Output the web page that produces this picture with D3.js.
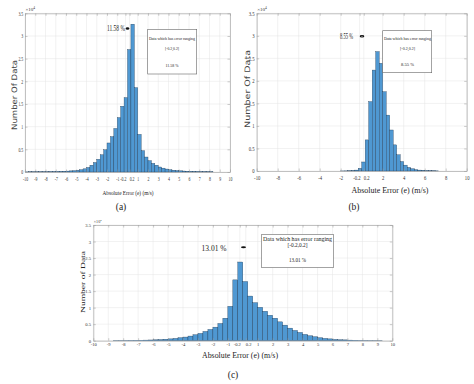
<!DOCTYPE html>
<html>
<head>
<meta charset="utf-8">
<script src="https://cdn.jsdelivr.net/npm/d3@7"></script>
<style>
  body { margin: 0; background: #fff; }
  svg { display: block; }
  text { font-family: "Liberation Serif", "Times New Roman", serif; }
</style>
</head>
<body>
<svg id="fig" width="474" height="384"></svg>
<script>
const binWidth = 1 / 3;

// (a) first bin edge and counts
const startA = -10;
const countsA = [30, 40, 40, 50, 50, 60, 70, 80, 90, 110, 130, 160, 200, 250, 300, 400, 500, 700,
  1000, 1500, 2100, 2800, 3800, 4900, 6400, 7800, 9600, 12000, 14500, 16400, 27000, 32600, 18600,
  8300, 4700, 3300, 2500, 1900, 1500, 1100, 850, 650, 500, 400, 320, 260, 210, 170, 140, 120, 100,
  90, 80, 70, 60];

// (b)
const startB = -2;
const countsB = [20, 30, 50, 100, 200, 600, 2000, 6900, 15400, 22400, 26500, 23900, 17600, 12400,
  9100, 5800, 3600, 2100, 1300, 800, 500, 300, 200, 150, 100, 70, 50, 30];

// (c)
const startC = -26 / 3;
const countsC = [60, 70, 80, 100, 120, 140, 180, 220, 280, 350, 450, 550, 700, 900, 1100, 1400, 1800,
  2200, 2800, 3400, 4100, 5200, 6800, 10400, 18400, 23800, 17900, 13500, 11500, 10100, 8900, 7700,
  6800, 5700, 4700, 3800, 3100, 2500, 1900, 1500, 1200, 900, 700, 550, 400, 300, 250, 180, 140, 100,
  80, 60, 50, 40];

const ticksA = [-10, -9, -8, -7, -6, -5, -4, -3, -2, -1, -0.2, 0.2, 1, 2, 3, 4, 5, 6, 7, 8, 9, 10];
const ticksB = [-10, -8, -6, -4, -2, -0.2, 0.2, 2, 4, 6, 8, 10];
const ticksC = ticksA;
const yTicks = [0, 5000, 10000, 15000, 20000, 25000, 30000, 35000];

const shares = ["11.58 %", "8.55 %", "13.01 %"];
const boxShares = ["11.58 %", "8.55 %", "13.01 %"];

const svg = d3.select("#fig");

function label(txt, x, y, size, opts = {}) {
  const t = svg.append("text")
    .attr("x", x).attr("y", y)
    .attr("font-size", size)
    .attr("fill", opts.fill || "#222")
    .attr("text-anchor", opts.anchor || "middle")
    .text(txt);
  if (opts.len) t.attr("textLength", opts.len).attr("lengthAdjust", "spacingAndGlyphs");
  if (opts.family) t.style("font-family", opts.family);
  if (opts.rotate) t.attr("transform", `rotate(-90,${x},${y})`);
  return t;
}

function drawPanel(p) {
  const x = d3.scaleLinear().domain([-10, 10]).range([p.left, p.right]);
  const y = d3.scaleLinear().domain([0, 35000]).range([p.bottom, p.top]);
  const g = svg.append("g");

  // grid
  g.append("g").selectAll("line").data(p.ticks).join("line")
    .attr("x1", d => x(d)).attr("x2", d => x(d))
    .attr("y1", p.top).attr("y2", p.bottom)
    .attr("stroke", "#e4e4e4").attr("stroke-width", 0.5);
  g.append("g").selectAll("line").data(yTicks).join("line")
    .attr("x1", p.left).attr("x2", p.right)
    .attr("y1", d => y(d)).attr("y2", d => y(d))
    .attr("stroke", "#e4e4e4").attr("stroke-width", 0.5);

  // bars
  const bins = p.counts.map((c, i) => ({ a: p.start + i * binWidth, b: p.start + (i + 1) * binWidth, c }));
  g.append("g").selectAll("rect").data(bins).join("rect")
    .attr("x", d => x(d.a))
    .attr("width", d => x(d.b) - x(d.a))
    .attr("y", d => y(d.c))
    .attr("height", d => p.bottom - y(d.c))
    .attr("fill", "#4f98d2")
    .attr("stroke", "#1d3852")
    .attr("stroke-width", 0.35);

  // axes: box with inward ticks on all four sides
  const styleAxis = sel => {
    sel.attr("font-family", null).attr("font-size", null);
    sel.select(".domain").attr("stroke", "#9a9a9a").attr("stroke-width", 0.6);
    sel.selectAll(".tick line").attr("stroke", "#9a9a9a").attr("stroke-width", 0.5);
    sel.selectAll(".tick text").attr("font-size", p.tickFont).attr("fill", "#333");
  };
  const bottom = g.append("g").attr("transform", `translate(0,${p.bottom})`)
    .call(d3.axisBottom(x).tickValues(p.ticks).tickSize(-2.5).tickSizeOuter(0)
      .tickPadding(p.xPad).tickFormat(d => String(d)))
    .call(styleAxis);
  // -0.2 and 0.2 sit almost on top of each other: push them apart a little
  bottom.selectAll(".tick text")
    .attr("transform", `scale(${p.squeeze},1)`)
    .attr("text-anchor", d => d === -0.2 ? "end" : d === 0.2 ? "start" : "middle")
    .attr("x", d => d === -0.2 ? 0.6 : d === 0.2 ? -0.6 : 0);
  g.append("g").attr("transform", `translate(0,${p.top})`)
    .call(d3.axisTop(x).tickValues(p.ticks).tickSize(-2.5).tickSizeOuter(0).tickFormat(""))
    .call(styleAxis);
  const leftAx = g.append("g").attr("transform", `translate(${p.left},0)`)
    .call(d3.axisLeft(y).tickValues(yTicks).tickSize(-2.5).tickSizeOuter(0)
      .tickPadding(p.yPad).tickFormat(d => String(d / 1e4)))
    .call(styleAxis);
  leftAx.selectAll(".tick text").attr("transform", `scale(${p.squeeze},1)`);
  g.append("g").attr("transform", `translate(${p.right},0)`)
    .call(d3.axisRight(y).tickValues(yTicks).tickSize(-2.5).tickSizeOuter(0).tickFormat(""))
    .call(styleAxis);

  // x10^4 exponent
  const ex = svg.append("text").attr("x", p.left + 0.5).attr("y", p.top - 2.5)
    .attr("font-size", p.tickFont - 0.5).attr("fill", "#333");
  ex.append("tspan").text("\u00d710");
  ex.append("tspan").attr("dy", -2).attr("font-size", p.tickFont - 2).text("4");
}

// (a)
drawPanel({ left: 25, right: 230, top: 13.3, bottom: 172, start: startA, counts: countsA,
  ticks: ticksA, tickFont: 5.5, xPad: 5, yPad: 2.5, squeeze: 0.7 });
// (b)
drawPanel({ left: 256.7, right: 466.7, top: 13.3, bottom: 171, start: startB, counts: countsB,
  ticks: ticksB, tickFont: 5.5, xPad: 5, yPad: 2.5, squeeze: 0.85 });
// (c)
drawPanel({ left: 93.3, right: 392.3, top: 225, bottom: 340.7, start: startC, counts: countsC,
  ticks: ticksC, tickFont: 4.6, xPad: 2.5, yPad: 2.3, squeeze: 1 });

// axis titles
label("Absolute Error (e) (m/s)", 128, 195, 7, { len: 51 });
label("Absolute Error (e) (m/s)", 390, 193, 7.5, { len: 77 });
label("Absolute Error (e) (m/s)", 240, 358, 7.5, { len: 76 });
label("Number Of Data", 16.5, 95, 7.5, { len: 70, rotate: true, fill: "#444", family: "'DejaVu Sans', sans-serif" });
label("Number Of Data", 249.5, 89, 7.5, { len: 78, rotate: true, fill: "#444", family: "'DejaVu Sans', sans-serif" });
label("Number of Data", 85, 282, 7, { len: 62, rotate: true });

// panel captions
label("(a)", 121, 210, 9.5);
label("(b)", 354, 210, 9.5);
label("(c)", 233, 378, 9.5);

// peak-share callouts
label(shares[0], 116, 31, 8, { len: 18 });
svg.append("ellipse").attr("cx", 127.5).attr("cy", 28.5).attr("rx", 1.8).attr("ry", 1.3).attr("fill", "#111");
label(shares[1], 346.5, 39, 8, { len: 13 });
svg.append("ellipse").attr("cx", 362).attr("cy", 36.3).attr("rx", 2.3).attr("ry", 1.3).attr("fill", "#111");
svg.append("circle").attr("cx", 362).attr("cy", 36.3).attr("r", 0.5).attr("fill", "#fff");
label(shares[2], 214, 251, 7.5, { len: 25 });
svg.append("ellipse").attr("cx", 243.5).attr("cy", 247.3).attr("rx", 2.5).attr("ry", 1).attr("fill", "#111");

// info boxes
const boxes = [
  { x: 147.7, y: 29.3, w: 49, h: 44.7, cx: 172, l1: 39.5, l2: 49.5, l3: 67, f: 5, w1: 46, w2: 14, w3: 13, share: boxShares[0] },
  { x: 382.7, y: 30.7, w: 49, h: 42, cx: 407.5, l1: 39.5, l2: 49.5, l3: 66, f: 5, w1: 47, w2: 15, w3: 13, share: boxShares[1] },
  { x: 261.7, y: 234.3, w: 71.6, h: 33.4, cx: 297.5, l1: 240.8, l2: 246.8, l3: 261.8, f: 5.3, w1: 69, w2: 20, w3: 17, share: boxShares[2] }
];
boxes.forEach(b => {
  svg.append("rect").attr("x", b.x).attr("y", b.y).attr("width", b.w).attr("height", b.h)
    .attr("fill", "#fff").attr("stroke", "#666").attr("stroke-width", 0.6);
  label("Data which has error ranging", b.cx, b.l1, b.f, { len: b.w1 });
  label("[-0.2,0.2]", b.cx, b.l2, b.f, { len: b.w2 });
  label(b.share, b.cx, b.l3, b.f, { len: b.w3 });
});
</script>
</body>
</html>
